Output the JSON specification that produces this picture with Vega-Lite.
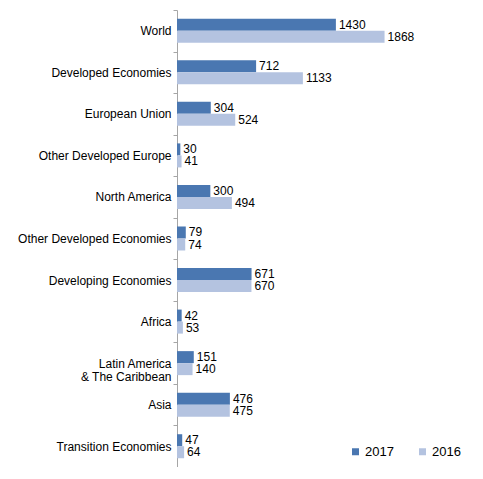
{
  "$schema": "https://vega.github.io/schema/vega-lite/v6.json",
  "autosize": {"type": "none"},
  "padding": {"left": 177, "top": 10, "right": 0, "bottom": 0},
  "width": 300,
  "height": 457,
  "background": "white",
  "config": {"view": {"stroke": null}, "font": "Liberation Sans"},
  "data": {"values": [
    {"region": "World", "year": "2017", "value": 1430},
    {"region": "World", "year": "2016", "value": 1868},
    {"region": "Developed Economies", "year": "2017", "value": 712},
    {"region": "Developed Economies", "year": "2016", "value": 1133},
    {"region": "European Union", "year": "2017", "value": 304},
    {"region": "European Union", "year": "2016", "value": 524},
    {"region": "Other Developed Europe", "year": "2017", "value": 30},
    {"region": "Other Developed Europe", "year": "2016", "value": 41},
    {"region": "North America", "year": "2017", "value": 300},
    {"region": "North America", "year": "2016", "value": 494},
    {"region": "Other Developed Economies", "year": "2017", "value": 79},
    {"region": "Other Developed Economies", "year": "2016", "value": 74},
    {"region": "Developing Economies", "year": "2017", "value": 671},
    {"region": "Developing Economies", "year": "2016", "value": 670},
    {"region": "Africa", "year": "2017", "value": 42},
    {"region": "Africa", "year": "2016", "value": 53},
    {"region": "Latin America & The Caribbean", "year": "2017", "value": 151},
    {"region": "Latin America & The Caribbean", "year": "2016", "value": 140},
    {"region": "Asia", "year": "2017", "value": 476},
    {"region": "Asia", "year": "2016", "value": 475},
    {"region": "Transition Economies", "year": "2017", "value": 47},
    {"region": "Transition Economies", "year": "2016", "value": 64}
  ]},
  "encoding": {
    "y": {
      "field": "region", "type": "nominal", "sort": null,
      "scale": {"paddingInner": 0, "paddingOuter": 0},
      "axis": {
        "title": null, "tickBand": "extent", "tickSize": 4, "labelPadding": 2,
        "domainColor": "#a6a6a6", "tickColor": "#a6a6a6", "labelFontSize": 12,
        "labelColor": "#000000", "labelLimit": 200, "labelLineHeight": 13,
        "labelExpr": "datum.value == 'Latin America & The Caribbean' ? ['Latin America', '& The Caribbean'] : datum.value"
      }
    },
    "yOffset": {
      "field": "year", "type": "nominal", "sort": ["2017", "2016"],
      "scale": {"paddingInner": 0, "paddingOuter": 0.73}
    },
    "x": {
      "field": "value", "type": "quantitative",
      "scale": {"domain": [0, 2700], "nice": false},
      "axis": null
    }
  },
  "layer": [
    {
      "mark": {"type": "bar"},
      "encoding": {
        "color": {
          "field": "year", "type": "nominal",
          "scale": {"domain": ["2017", "2016"], "range": ["#4a77b1", "#b4c3e0"]},
          "legend": {
            "title": null, "orient": "none", "direction": "horizontal",
            "legendX": 172, "legendY": 435, "symbolType": "square",
            "symbolSize": 49, "labelFontSize": 13, "columnPadding": 22,
            "labelOffset": 3,
            "labelColor": "#000000", "symbolStrokeWidth": 0
          }
        }
      }
    },
    {
      "mark": {"type": "text", "align": "left", "baseline": "middle", "dx": 3, "fontSize": 12, "color": "#000000"},
      "encoding": {"text": {"field": "value", "type": "quantitative"}}
    }
  ]
}
